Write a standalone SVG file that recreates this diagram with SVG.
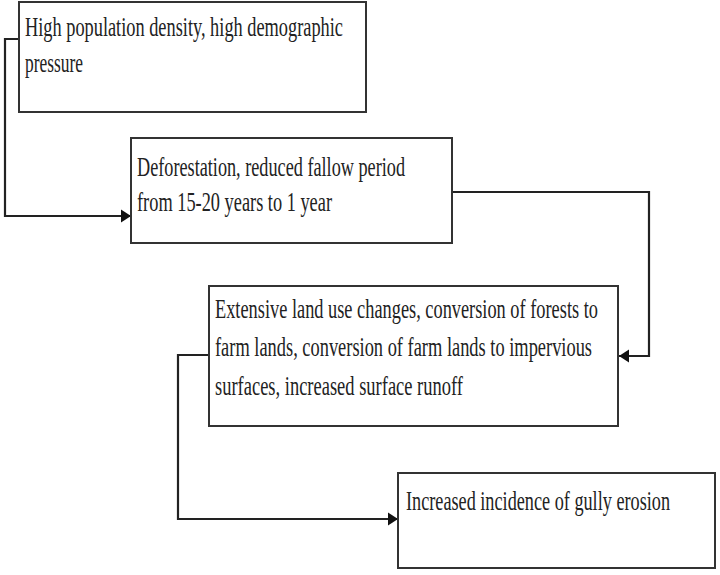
<svg xmlns="http://www.w3.org/2000/svg" width="720" height="575" viewBox="0 0 720 575">
<style>
.box{fill:#fff;stroke:#333;stroke-width:2}
.t{font-family:"Liberation Serif","Times New Roman",serif;font-size:28px;fill:#222}
.c{fill:none;stroke:#222;stroke-width:2.2}
</style>
<defs>
<marker id="arr" markerUnits="userSpaceOnUse" markerWidth="11" markerHeight="14" refX="10" refY="7" orient="auto">
<path d="M0,0.5 L10,7 L0,13.5 z" fill="#111"/>
</marker>
</defs>
<rect width="720" height="575" fill="#fff"/>
<g id="connectors">
<path class="c" d="M19,39 H5 V216 H131" marker-end="url(#arr)"/>
<path class="c" d="M452,192 H649 V356 H619" marker-end="url(#arr)"/>
<path class="c" d="M209,355 H178 V519 H398" marker-end="url(#arr)"/>
</g>
<g id="node1">
<rect class="box" x="19" y="2" width="347" height="110"/>
<g transform="scale(0.65,1)">
<text class="t" x="38.46" y="36.5" textLength="489.2" lengthAdjust="spacingAndGlyphs">High population density, high demographic</text>
<text class="t" x="38.46" y="72" textLength="89.2" lengthAdjust="spacingAndGlyphs">pressure</text>
</g>
</g>
<g id="node2">
<rect class="box" x="131" y="138" width="321" height="105"/>
<g transform="scale(0.65,1)">
<text class="t" x="210.77" y="176" textLength="412.3" lengthAdjust="spacingAndGlyphs">Deforestation, reduced fallow period</text>
<text class="t" x="210.77" y="211" textLength="300" lengthAdjust="spacingAndGlyphs">from 15-20 years to 1 year</text>
</g>
</g>
<g id="node3">
<rect class="box" x="209" y="286" width="409" height="140"/>
<g transform="scale(0.65,1)">
<text class="t" x="330.77" y="318" textLength="589.2" lengthAdjust="spacingAndGlyphs">Extensive land use changes, conversion of forests to</text>
<text class="t" x="330.77" y="356.5" textLength="580" lengthAdjust="spacingAndGlyphs">farm lands, conversion of farm lands to impervious</text>
<text class="t" x="330.77" y="395" textLength="381.5" lengthAdjust="spacingAndGlyphs">surfaces, increased surface runoff</text>
</g>
</g>
<g id="node4">
<rect class="box" x="398" y="473" width="317" height="95"/>
<g transform="scale(0.65,1)">
<text class="t" x="624.6" y="510" textLength="406.2" lengthAdjust="spacingAndGlyphs">Increased incidence of gully erosion</text>
</g>
</g>
</svg>
